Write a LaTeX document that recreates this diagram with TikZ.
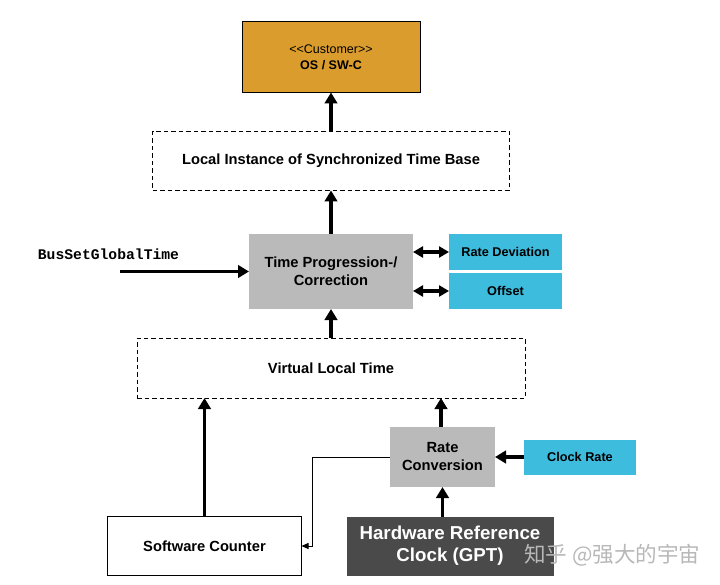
\documentclass[tikz,border=0pt]{standalone}
\usepackage{fontspec}
\setmainfont{Liberation Sans}
\newfontfamily\codefont{Liberation Mono}
\newfontfamily\cjkfont{Noto Sans CJK SC}
\usetikzlibrary{arrows.meta}
\definecolor{orangebox}{HTML}{DA9D2D}
\definecolor{greybox}{HTML}{BABABA}
\definecolor{bluebox}{HTML}{3DBCDD}
\definecolor{darkbox}{HTML}{4A4A4A}
\tikzset{
  x=1pt,y=-1pt,
  base/.style={inner sep=0pt,outer sep=0pt,align=center,font=\bfseries\fontsize{14.7}{18}\selectfont},
  orangenode/.style={base,draw=black,line width=.9pt,fill=orangebox},
  dashbox/.style={base,draw=black,line width=1pt,dash pattern=on 4.5pt off 3pt},
  greynode/.style={base,fill=greybox},
  bluenode/.style={base,fill=bluebox,font=\bfseries\fontsize{12.7}{15}\selectfont},
  whitenode/.style={base,draw=black,line width=1.3pt,fill=white},
  darknode/.style={base,fill=darkbox,text=white,font=\bfseries\fontsize{18.7}{22}\selectfont},
  thick arrow/.style={line width=3.6pt,-{Triangle[length=11pt,width=12.5pt]}},
  double arrow/.style={line width=3.1pt,{Triangle[length=10pt,width=11pt]}-{Triangle[length=10pt,width=11pt]}},
  thin arrow/.style={line width=.9pt,-{Triangle[length=7pt,width=6pt]}},
}
\begin{document}
\begin{tikzpicture}
\useasboundingbox (0,0) rectangle (720,585);
\node[orangenode,minimum width=178pt,minimum height=71pt,font=\fontsize{12.5}{16}\selectfont] (os) at (331,57) {<{}<Customer>{}>\\\textbf{OS / SW-C}};
\node[dashbox,minimum width=357pt,minimum height=59pt] (local) at (331,161) {Local Instance of Synchronized Time Base};
\node[greynode,minimum width=164pt,minimum height=75pt] (tp) at (331,271.5) {Time Progression-/\\Correction};
\node[bluenode,minimum width=113pt,minimum height=36pt] (rd) at (505.5,252) {Rate Deviation};
\node[bluenode,minimum width=113pt,minimum height=36pt] (off) at (505.5,291) {Offset};
\node[dashbox,minimum width=388pt,minimum height=60pt] (vlt) at (331,368) {Virtual Local Time};
\node[greynode,minimum width=105pt,minimum height=60pt] (rc) at (442.5,457) {Rate\\Conversion};
\node[bluenode,minimum width=112pt,minimum height=35pt] (cr) at (580,457) {Clock Rate};
\node[whitenode,minimum width=194pt,minimum height=59pt] (sc) at (204.5,546) {Software Counter};
\node[darknode,minimum width=207pt,minimum height=59pt] (hw) at (450,546) {Hardware Reference\\Clock (GPT)};
\node[base,font=\codefont\bfseries\fontsize{14.7}{15}\selectfont] (bus) at (108.5,254.5) {BusSetGlobalTime};
\node[base,font=\cjkfont\fontsize{21.6}{24}\selectfont,text=black!28,anchor=west] (mark) at (524,555) {知乎 @强大的宇宙};
\coordinate (busin) at (120,271.5);
\coordinate (rcout) at (441,427);
\coordinate (vltin) at (441,398);
\coordinate (bend) at (312,457);
\draw[thick arrow] (local.north -| os) -- (os.south);
\draw[thick arrow] (tp.north) -- (local.south);
\draw[thick arrow] (vlt.north) -- (tp.south);
\draw[thick arrow] (busin) -- (tp.west |- busin);
\draw[double arrow] (tp.east |- rd) -- (rd.west);
\draw[double arrow] (tp.east |- off) -- (off.west);
\draw[thick arrow] (sc.north) -- (sc.north |- vlt.south);
\draw[thick arrow] (rcout) -- (vltin);
\draw[thick arrow] (cr.west) -- (rc.east);
\draw[thick arrow] (hw.north -| rc) -- (rc.south);
\draw[thin arrow] (rc.west) -- (bend) |- (sc.east);
\end{tikzpicture}
\end{document}
